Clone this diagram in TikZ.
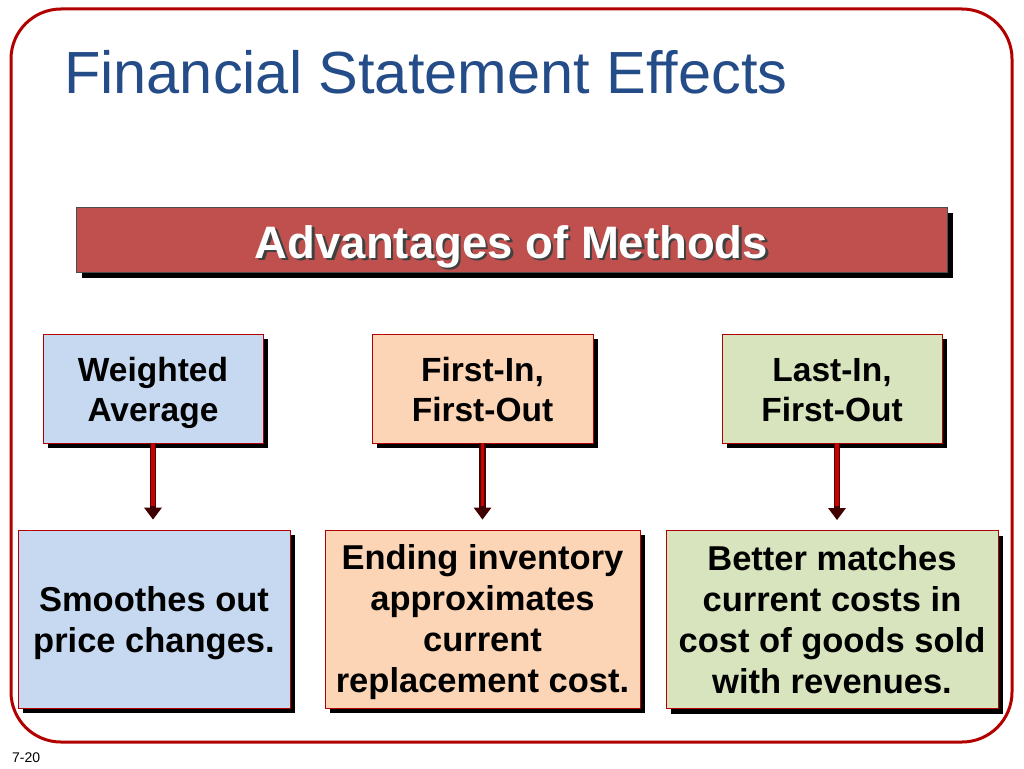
\documentclass[tikz,border=0pt]{standalone}
\usepackage{fontspec}
\setmainfont{Liberation Sans}
\usetikzlibrary{shadows,arrows.meta}
\definecolor{framered}{RGB}{178,0,0}
\definecolor{titleblue}{RGB}{36,76,136}
\definecolor{bannerred}{RGB}{192,80,77}
\definecolor{waFill}{RGB}{198,217,241}
\definecolor{fifoFill}{RGB}{251,213,181}
\definecolor{lifoFill}{RGB}{215,228,189}
\newcommand{\shadowtext}[1]{\makebox[0pt][l]{\hspace{2.5pt}\raisebox{-2.5pt}{\color{black!75}#1}}#1}
\begin{document}
\begin{tikzpicture}[
		x=1pt, y=-1pt,
		methodbox/.style={draw=framered, line width=0.8pt, inner sep=0pt, align=center,
			font=\fontsize{33.5}{40}\selectfont\bfseries, text height=65pt, text depth=0pt,
			minimum width=220pt, minimum height=109pt,
			general shadow={fill=black, shadow xshift=5pt, shadow yshift=-5pt}},
		effectbox/.style={methodbox, font=\fontsize{34.5}{41}\selectfont\bfseries, text height=66pt, minimum height=178pt},
		fourlines/.style={text height=147.5pt},
		arrowline/.style={draw=black!75!red, line width=6.5pt, -{Triangle[length=12pt,width=17pt]},
			postaction={draw=red!80!black, line width=3.5pt, -, shorten >=14pt}}
		]
		\useasboundingbox (0,0) rectangle (1024,768);
		\draw[framered, line width=3pt, rounded corners=50pt] (11,9) rectangle (1012,742);
		\node[anchor=base west, inner sep=0pt, text=titleblue, font=\fontsize{59.5}{60}\selectfont] (title) at (64,93) {Financial Statement Effects};
		\node[draw=black!70, line width=0.8pt, fill=bannerred, minimum width=871pt, minimum height=65pt, inner sep=0pt,
			text=white, font=\fontsize{45.5}{46}\selectfont\bfseries, text height=37pt, text depth=0pt,
			general shadow={fill=black, shadow xshift=6pt, shadow yshift=-6pt}] (banner) at (511.5,239.5) {\shadowtext{Advantages of Methods}};
		
		\node[methodbox, fill=waFill] (wa) at (153,388.5) {Weighted\\Average};
		\node[methodbox, fill=fifoFill, minimum width=221pt] (fifo) at (482.5,388.5) {First-In,\\First-Out};
		\node[methodbox, fill=lifoFill] (lifo) at (832,388.5) {Last-In,\\First-Out};
		
		\node[effectbox, fill=waFill, minimum width=272pt] (waeff) at (154,619) {Smoothes out\\price changes.};
		\node[effectbox, fourlines, fill=fifoFill, minimum width=315pt] (fifoeff) at (482.5,619) {Ending inventory\\approximates\\current\\replacement cost.};
		\node[effectbox, fourlines, fill=lifoFill, minimum width=332pt] (lifoeff) at (832,619.5) {Better matches\\current costs in\\cost of goods sold\\with revenues.};
		
		\draw[arrowline] (wa.south) -- ([yshift=10pt]wa.south |- waeff.north);
		\draw[arrowline] (fifo.south) -- ([yshift=10pt]fifo.south |- fifoeff.north);
		\draw[arrowline] ([xshift=5pt]lifo.south) -- ([xshift=5pt,yshift=10pt]lifo.south |- lifoeff.north);
		
		\node[anchor=base west, inner sep=0pt, font=\fontsize{14}{16}\selectfont] (page) at (12,762) {7-20};
\end{tikzpicture}
\end{document}
